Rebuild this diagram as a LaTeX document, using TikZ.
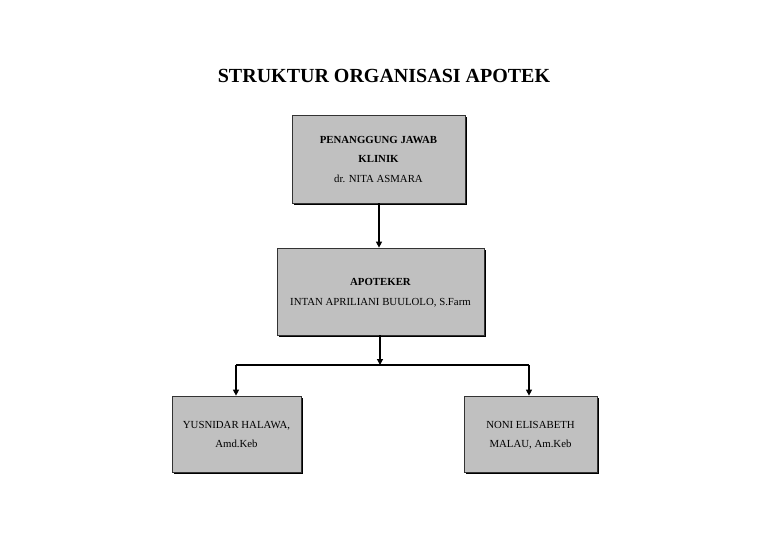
\documentclass[tikz,border=0pt]{standalone}
\usepackage{fontspec}
\setmainfont{Liberation Serif}
\usetikzlibrary{arrows.meta,shadows}
\definecolor{boxgray}{HTML}{C0C0C0}
\tikzset{
  orgbox/.style={draw=black!80, line width=0.7pt, fill=boxgray, align=center,
    inner sep=0pt, font=\fontsize{10.8}{19.5}\selectfont,
    drop shadow={shadow xshift=1.8pt, shadow yshift=-1.8pt, fill=black, opacity=1}},
  conn/.style={line width=1.2pt, draw=black},
  arr/.style={conn, -{Triangle[length=6pt,width=6pt]}}
}
\begin{document}
\begin{tikzpicture}[x=1pt,y=-1pt]
\useasboundingbox (0,0) rectangle (768,543);
\node[font=\fontsize{20}{24}\selectfont\bfseries] (title) at (384,76) {STRUKTUR ORGANISASI APOTEK};
\node[orgbox, minimum width=173pt, minimum height=88pt] (pj) at (378.5,159)
  {\strut\textbf{PENANGGUNG JAWAB}\\\strut\textbf{KLINIK}\\\strut dr. NITA ASMARA};
\node[orgbox, minimum width=207pt, minimum height=87pt] (apt) at (380.5,291.5)
  {\strut\textbf{APOTEKER}\\\strut INTAN APRILIANI BUULOLO, S.Farm};
\node[orgbox, minimum width=129pt, minimum height=76pt] (yus) at (236.5,434)
  {\strut YUSNIDAR HALAWA,\\\strut Amd.Keb};
\node[orgbox, minimum width=133pt, minimum height=76pt] (noni) at (530.5,434)
  {\strut NONI ELISABETH\\\strut MALAU, Am.Keb};
\coordinate (jc) at (380,365);
\coordinate (jl) at (236,365);
\coordinate (jr) at (529,365);
\draw[arr] (pj.south -| 379,0) -- (apt.north -| 379,0);
\draw[arr] (apt.south -| jc) -- (jc);
\draw[conn, line width=1.8pt] (jl) -- (jr);
\draw[arr] (jl) -- (yus.north -| jl);
\draw[arr] (jr) -- (noni.north -| jr);
\end{tikzpicture}
\end{document}
